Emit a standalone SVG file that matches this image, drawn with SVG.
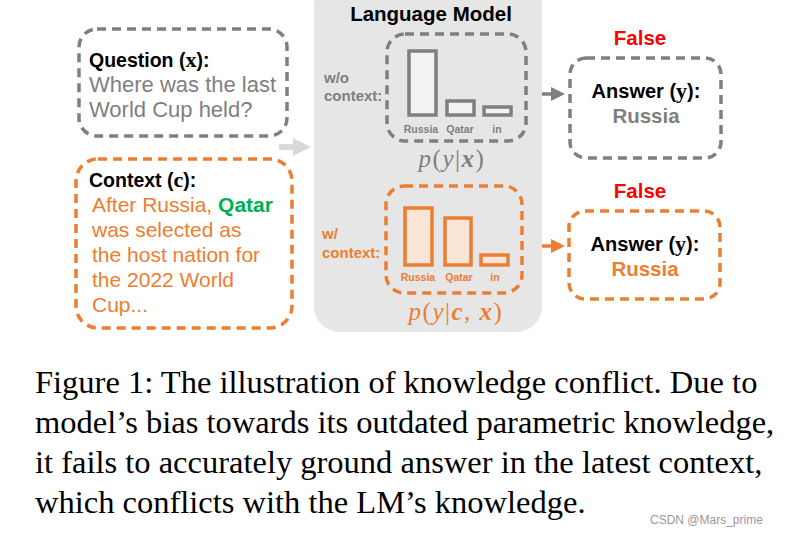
<svg xmlns="http://www.w3.org/2000/svg" width="808" height="535" viewBox="0 0 808 535">
<style>
.s{font-family:"Liberation Sans",Arial,sans-serif}
.b{font-weight:bold}
.m{font-family:"Liberation Serif","Times New Roman",serif}
.gd{stroke:#7f7f7f;stroke-width:3.5;stroke-dasharray:9 6;fill:none}
.od{stroke:#ed7d31;stroke-width:3.5;stroke-dasharray:9 6;fill:none}
.gb{stroke:#7f7f7f;stroke-width:3.5;fill:#f2f2f2}
.ob{stroke:#ed7d31;stroke-width:3.5;fill:#fbe5d6}
</style>
<defs>
<marker id="ag" markerWidth="4" markerHeight="4" refX="2" refY="2" orient="auto"><path d="M0,0L4,2L0,4z" fill="#7f7f7f"/></marker>
<marker id="ao" markerWidth="4" markerHeight="4" refX="2" refY="2" orient="auto"><path d="M0,0L4,2L0,4z" fill="#ed7d31"/></marker>
<marker id="al" markerWidth="3" markerHeight="3" refX="1.5" refY="1.5" orient="auto"><path d="M0,0L3,1.5L0,3z" fill="#d9d9d9"/></marker>
</defs>
<rect width="808" height="535" fill="#fff"/>
<g id="lm">
<rect x="314" y="-20" width="228" height="352" rx="26" fill="#e6e6e6"/>
<text x="431" y="21" class="s b" font-size="20.5" text-anchor="middle">Language Model</text>
</g>
<g id="wo">
<rect x="387" y="34" width="139" height="107" rx="18" class="gd"/>
<rect x="409" y="51" width="27" height="64" class="gb"/>
<rect x="447" y="101" width="27" height="14" class="gb"/>
<rect x="484" y="107" width="27" height="8" class="gb"/>
<g class="s b" font-size="10.5" fill="#7f7f7f" text-anchor="middle"><text x="421" y="133">Russia</text><text x="460" y="133">Qatar</text><text x="497" y="133">in</text></g>
<g class="s b" font-size="15" fill="#7f7f7f"><text x="324" y="83">w/o</text><text x="324" y="101">context:</text></g>
<text x="452" y="167" class="m" font-size="25" fill="#7f7f7f" text-anchor="middle" letter-spacing="1.5"><tspan font-style="italic">p</tspan>(<tspan font-style="italic">y</tspan>|<tspan font-weight="bold" font-style="italic">x</tspan>)</text>
</g>
<g id="w">
<rect x="386" y="186" width="136" height="107" rx="18" class="od"/>
<rect x="405" y="208" width="27" height="57" class="ob"/>
<rect x="445" y="218" width="26" height="47" class="ob"/>
<rect x="481" y="255" width="27" height="10" class="ob"/>
<g class="s b" font-size="10.5" fill="#ed7d31" text-anchor="middle"><text x="418" y="281">Russia</text><text x="459" y="281">Qatar</text><text x="495" y="281">in</text></g>
<g class="s b" font-size="15" fill="#ed7d31"><text x="322" y="239">w/</text><text x="322" y="258">context:</text></g>
<text x="456" y="320" class="m" font-size="25" fill="#ed7d31" text-anchor="middle" letter-spacing="1.5"><tspan font-style="italic">p</tspan>(<tspan font-style="italic">y</tspan>|<tspan font-weight="bold" font-style="italic">c</tspan>, <tspan font-weight="bold" font-style="italic">x</tspan>)</text>
</g>
<g id="question">
<rect x="79" y="29" width="208" height="107" rx="18" fill="#f7f7f7" class="gd"/>
<text x="89" y="67" class="s b" font-size="19.5">Question (<tspan class="m" font-size="22">x</tspan>):</text>
<g class="s" font-size="22" fill="#7f7f7f"><text x="89" y="92">Where was the last</text><text x="89" y="117">World Cup held?</text></g>
</g>
<g id="context">
<rect x="76" y="159" width="216" height="169" rx="22" fill="#fff8e5" class="od"/>
<text x="89" y="187" class="s b" font-size="19.5">Context (<tspan class="m" font-size="22">c</tspan>):</text>
<g class="s" font-size="21" fill="#ed7d31"><text x="92" y="212">After Russia, <tspan font-weight="bold" fill="#00b050">Qatar</tspan></text><text x="92" y="237">was selected as</text><text x="92" y="262">the host nation for</text><text x="92" y="287">the 2022 World</text><text x="92" y="312">Cup...</text></g>
</g>
<g id="ans1">
<rect x="570" y="58" width="151" height="100" rx="16" fill="#f7f7f7" class="gd"/>
<text x="646" y="98" class="s b" font-size="20" text-anchor="middle">Answer (<tspan class="m" font-size="22">y</tspan>):</text>
<text x="646" y="123" class="s b" font-size="20.5" fill="#7f7f7f" text-anchor="middle">Russia</text>
<text x="640" y="45" class="s b" font-size="20.5" fill="#ff0000" text-anchor="middle">False</text>
</g>
<g id="ans2">
<rect x="569" y="211" width="151" height="88" rx="16" fill="#fff2cc" class="od"/>
<text x="645" y="251" class="s b" font-size="20" text-anchor="middle">Answer (<tspan class="m" font-size="22">y</tspan>):</text>
<text x="645" y="276" class="s b" font-size="20.5" fill="#ed7d31" text-anchor="middle">Russia</text>
<text x="640" y="198" class="s b" font-size="20.5" fill="#ff0000" text-anchor="middle">False</text>
</g>
<g id="connectors">
<line x1="279" y1="147" x2="302" y2="147" stroke="#d9d9d9" stroke-width="6" marker-end="url(#al)"/>
<line x1="542" y1="94" x2="558" y2="94" stroke="#7f7f7f" stroke-width="3.5" marker-end="url(#ag)"/>
<line x1="542" y1="246" x2="558" y2="246" stroke="#ed7d31" stroke-width="3.5" marker-end="url(#ao)"/>
</g>
<g class="m" font-size="32.5" fill="#000">
<text x="35" y="393">Figure 1: The illustration of knowledge conflict. Due to</text>
<text x="35" y="433">model’s bias towards its outdated parametric knowledge,</text>
<text x="35" y="473">it fails to accurately ground answer in the latest context,</text>
<text x="35" y="513">which conflicts with the LM’s knowledge.</text>
</g>
<text x="650" y="524" class="s" font-size="12" fill="#999">CSDN @Mars_prime</text>
</svg>
